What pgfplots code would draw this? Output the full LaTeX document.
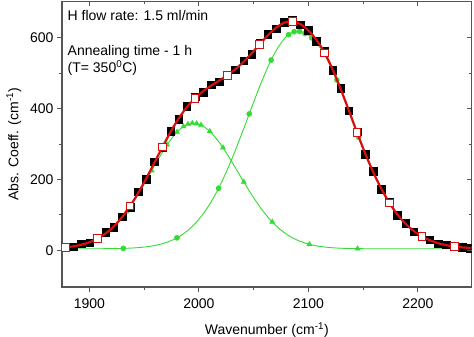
\documentclass[border=0pt]{standalone}
\usepackage{fontspec}
\setmainfont{Liberation Sans}
\usepackage{pgfplots}
\pgfplotsset{compat=1.18}
\definecolor{fitgreen}{RGB}{50,220,50}
\definecolor{fitred}{RGB}{215,15,15}
\definecolor{framegray}{RGB}{85,85,85}

\pgfplotstableread{
x total
1878.0 8.0
1885.4 10.9
1892.8 15.6
1900.2 22.7
1907.6 33.2
1915.0 47.8
1922.4 67.6
1929.8 93.2
1937.2 124.6
1944.6 161.7
1952.0 203.2
1959.4 247.4
1966.8 292.0
1974.2 334.5
1981.6 372.5
1989.0 404.3
1996.4 429.5
2003.8 449.1
2011.2 465.0
2018.6 479.5
2026.0 494.4
2033.4 511.7
2040.8 532.5
2048.2 556.5
2055.6 582.3
2063.0 607.4
2070.4 628.8
2077.8 643.0
2085.2 647.1
2092.6 639.1
2100.0 621.3
2107.4 594.3
2114.8 558.1
2122.2 510.7
2129.6 455.0
2137.0 394.9
2144.4 333.1
2151.8 274.3
2159.2 220.8
2166.6 173.9
2174.0 134.0
2181.4 100.6
2188.8 74.7
2196.2 54.5
2203.6 39.2
2211.0 28.0
2218.4 19.9
2225.8 14.3
2233.2 10.5
2240.6 8.0
2248.0 6.4
}\fittable

\pgfplotstableread{
x y
1878.0 10.0
1885.4 9.9
1892.8 18.6
1900.2 20.7
1907.6 34.2
1915.0 50.8
1922.4 65.6
1929.8 95.2
1937.2 121.6
1944.6 165.7
1952.0 201.2
1959.4 250.4
1966.8 291.0
1974.2 336.5
1981.6 369.5
1989.0 406.3
1996.4 433.5
2003.8 447.1
2011.2 468.0
2018.6 476.5
2026.0 496.4
2033.4 510.7
2040.8 535.5
2048.2 554.5
2055.6 584.3
2063.0 611.4
2070.4 625.8
2077.8 645.0
2085.2 650.1
2092.6 637.1
2100.0 622.3
2107.4 591.3
2114.8 562.1
2122.2 508.7
2129.6 458.0
2137.0 393.9
2144.4 335.1
2151.8 271.3
2159.2 223.8
2166.6 171.9
2174.0 136.0
2181.4 99.6
2188.8 76.7
2196.2 52.5
2203.6 40.2
2211.0 30.0
2218.4 18.9
2225.8 15.3
2233.2 9.5
2240.6 9.0
2248.0 5.4
}\datatable

\pgfplotstableread{
x y
1875.0 7.0
1878.0 8.0
1885.4 10.9
1892.8 15.6
1900.2 22.6
1907.6 33.0
1915.0 47.5
1922.4 67.0
1929.8 92.1
1937.2 122.7
1944.6 158.4
1952.0 197.6
1959.4 238.3
1966.8 277.5
1974.2 312.1
1981.6 338.7
1989.0 354.8
1996.4 358.8
2003.8 350.9
2011.2 332.3
2018.6 304.8
2026.0 270.7
2033.4 232.9
2040.8 194.2
2048.2 157.0
2055.6 123.1
2063.0 93.7
2070.4 69.5
2077.8 50.2
2085.2 35.6
2092.6 24.9
2100.0 17.4
2107.4 12.3
2114.8 9.0
2122.2 6.9
2129.6 5.6
2137.0 4.9
2144.4 4.5
2151.8 4.2
2166.6 4.0
2200.0 4.0
2249.0 4.0
}\tricurve

\pgfplotstableread{
x y
1875.0 4.0
1900.2 4.1
1915.0 4.3
1922.4 4.6
1929.8 5.1
1937.2 5.9
1944.6 7.3
1952.0 9.6
1959.4 13.1
1966.8 18.5
1974.2 26.4
1981.6 37.8
1989.0 53.5
1996.4 74.7
2003.8 102.2
2011.2 136.7
2018.6 178.7
2026.0 227.7
2033.4 282.8
2040.8 342.3
2048.2 403.5
2055.6 463.2
2063.0 517.7
2070.4 563.3
2077.8 596.8
2085.2 615.5
2092.6 618.2
2100.0 607.9
2107.4 586.0
2114.8 553.1
2122.2 507.8
2129.6 453.4
2137.0 394.0
2144.4 332.6
2151.8 274.1
2159.2 220.7
2166.6 173.9
2174.0 134.0
2181.4 100.6
2188.8 74.7
2196.2 54.5
2203.6 39.2
2211.0 28.0
2218.4 19.9
2225.8 14.3
2233.2 10.5
2240.6 8.0
2249.0 6.3
}\circcurve

\begin{document}
\begin{tikzpicture}
\pgfplotsset{every axis/.append style={font=\fontsize{14}{16.5}\selectfont}}
\begin{axis}[
  name=main,
  scale only axis, width=409.5pt, height=285.5pt,
  xmin=1875, xmax=2249, ymin=-104, ymax=703,
  xtick={1900,2000,2100,2200}, minor x tick num=1,
  ytick={0,200,400,600}, minor y tick num=1,
  tick align=outside, xtick pos=left, ytick pos=left,
  major tick length=5pt, minor tick length=3pt,
  axis line style={framegray, line width=1.3pt},
  every tick/.style={framegray, line width=1pt},
  /pgf/number format/assume math mode=true,
  /pgf/number format/1000 sep={},
  xlabel={Wavenumber (cm\textsuperscript{-1})},
  ylabel={Abs. Coeff. (cm\textsuperscript{-1})},
  xticklabel style={yshift=-3pt},
  xlabel style={yshift=-7pt},
  ylabel style={yshift=2pt},
  clip marker paths=true,
]
\addplot[fitgreen, line width=0.9pt, smooth, no marks] table {\tricurve};
\addplot[fitgreen, line width=0.9pt, smooth, no marks] table {\circcurve};
\addplot[only marks, mark=triangle*, mark size=3pt, fitgreen] coordinates {
(1905,28.9) (1934,108.8) (1957,225.0) (1971,298.0) (1980,334.0) (1986,349.7) (1990,356.1) (1994,358.9) (1998,358.0) (2002,353.9) (2010,336.0) (2022,289.8) (2041,193.2) (2067,80.0) (2101,16.6) (2145,4.4)};
\addplot[only marks, mark=*, mark size=2.6pt, fitgreen] coordinates {
(1931,5.2) (1980,35.0) (2018,175.0) (2046,385.3) (2066,537.4) (2082,609.4) (2087,617.6) (2092,618.5) (2097,612.4) (2103,600.4) (2126,481.0) (2146,319.6) (2173,139.1) (2208,32.1) (2245,7.0)};
\addplot[only marks, mark=square*, mark size=3.8pt, black] table {\datatable};
\addplot[fitred, line width=2.2pt, no marks] coordinates {(1875,7.0) (1878,8.0)};
\addplot[fitred, line width=2.2pt, no marks] coordinates {(2248,6.4) (2249,6.2)};
\addplot[fitred, line width=2.2pt, smooth, no marks] table {\fittable};
\addplot[only marks, mark=square*, mark size=3.8pt, fitred, mark options={fill=white, line width=0.9pt}] table[each nth point=4] {\fittable};
\node[anchor=base west, inner sep=0pt] at (axis cs:1880,650) {H flow rate: 1.5 ml/min};
\node[anchor=base west, inner sep=0pt] at (axis cs:1880,551) {Annealing time - 1 h};
\node[anchor=base west, inner sep=0pt] at (axis cs:1880,502) {(T= 350\textsuperscript{0}C)};
\end{axis}
\begin{axis}[
  at={(main.south west)}, anchor=south west,
  scale only axis, width=409.5pt, height=285.5pt,
  xmin=1875, xmax=2249, ymin=-104, ymax=703,
  xtick={1900,2000,2100,2200}, minor x tick num=1,
  ytick={0,200,400,600}, minor y tick num=1,
  tick align=inside, xtick pos=right, ytick pos=right,
  xticklabels={}, yticklabels={},
  major tick length=5pt, minor tick length=3pt,
  axis line style={draw=none},
  every tick/.style={framegray, line width=1pt},
]
\end{axis}
\pgfresetboundingbox
\path ([shift={(-62pt,-50pt)}]main.south west) rectangle ([shift={(2.5pt,1.5pt)}]main.north east);
\end{tikzpicture}
\end{document}
